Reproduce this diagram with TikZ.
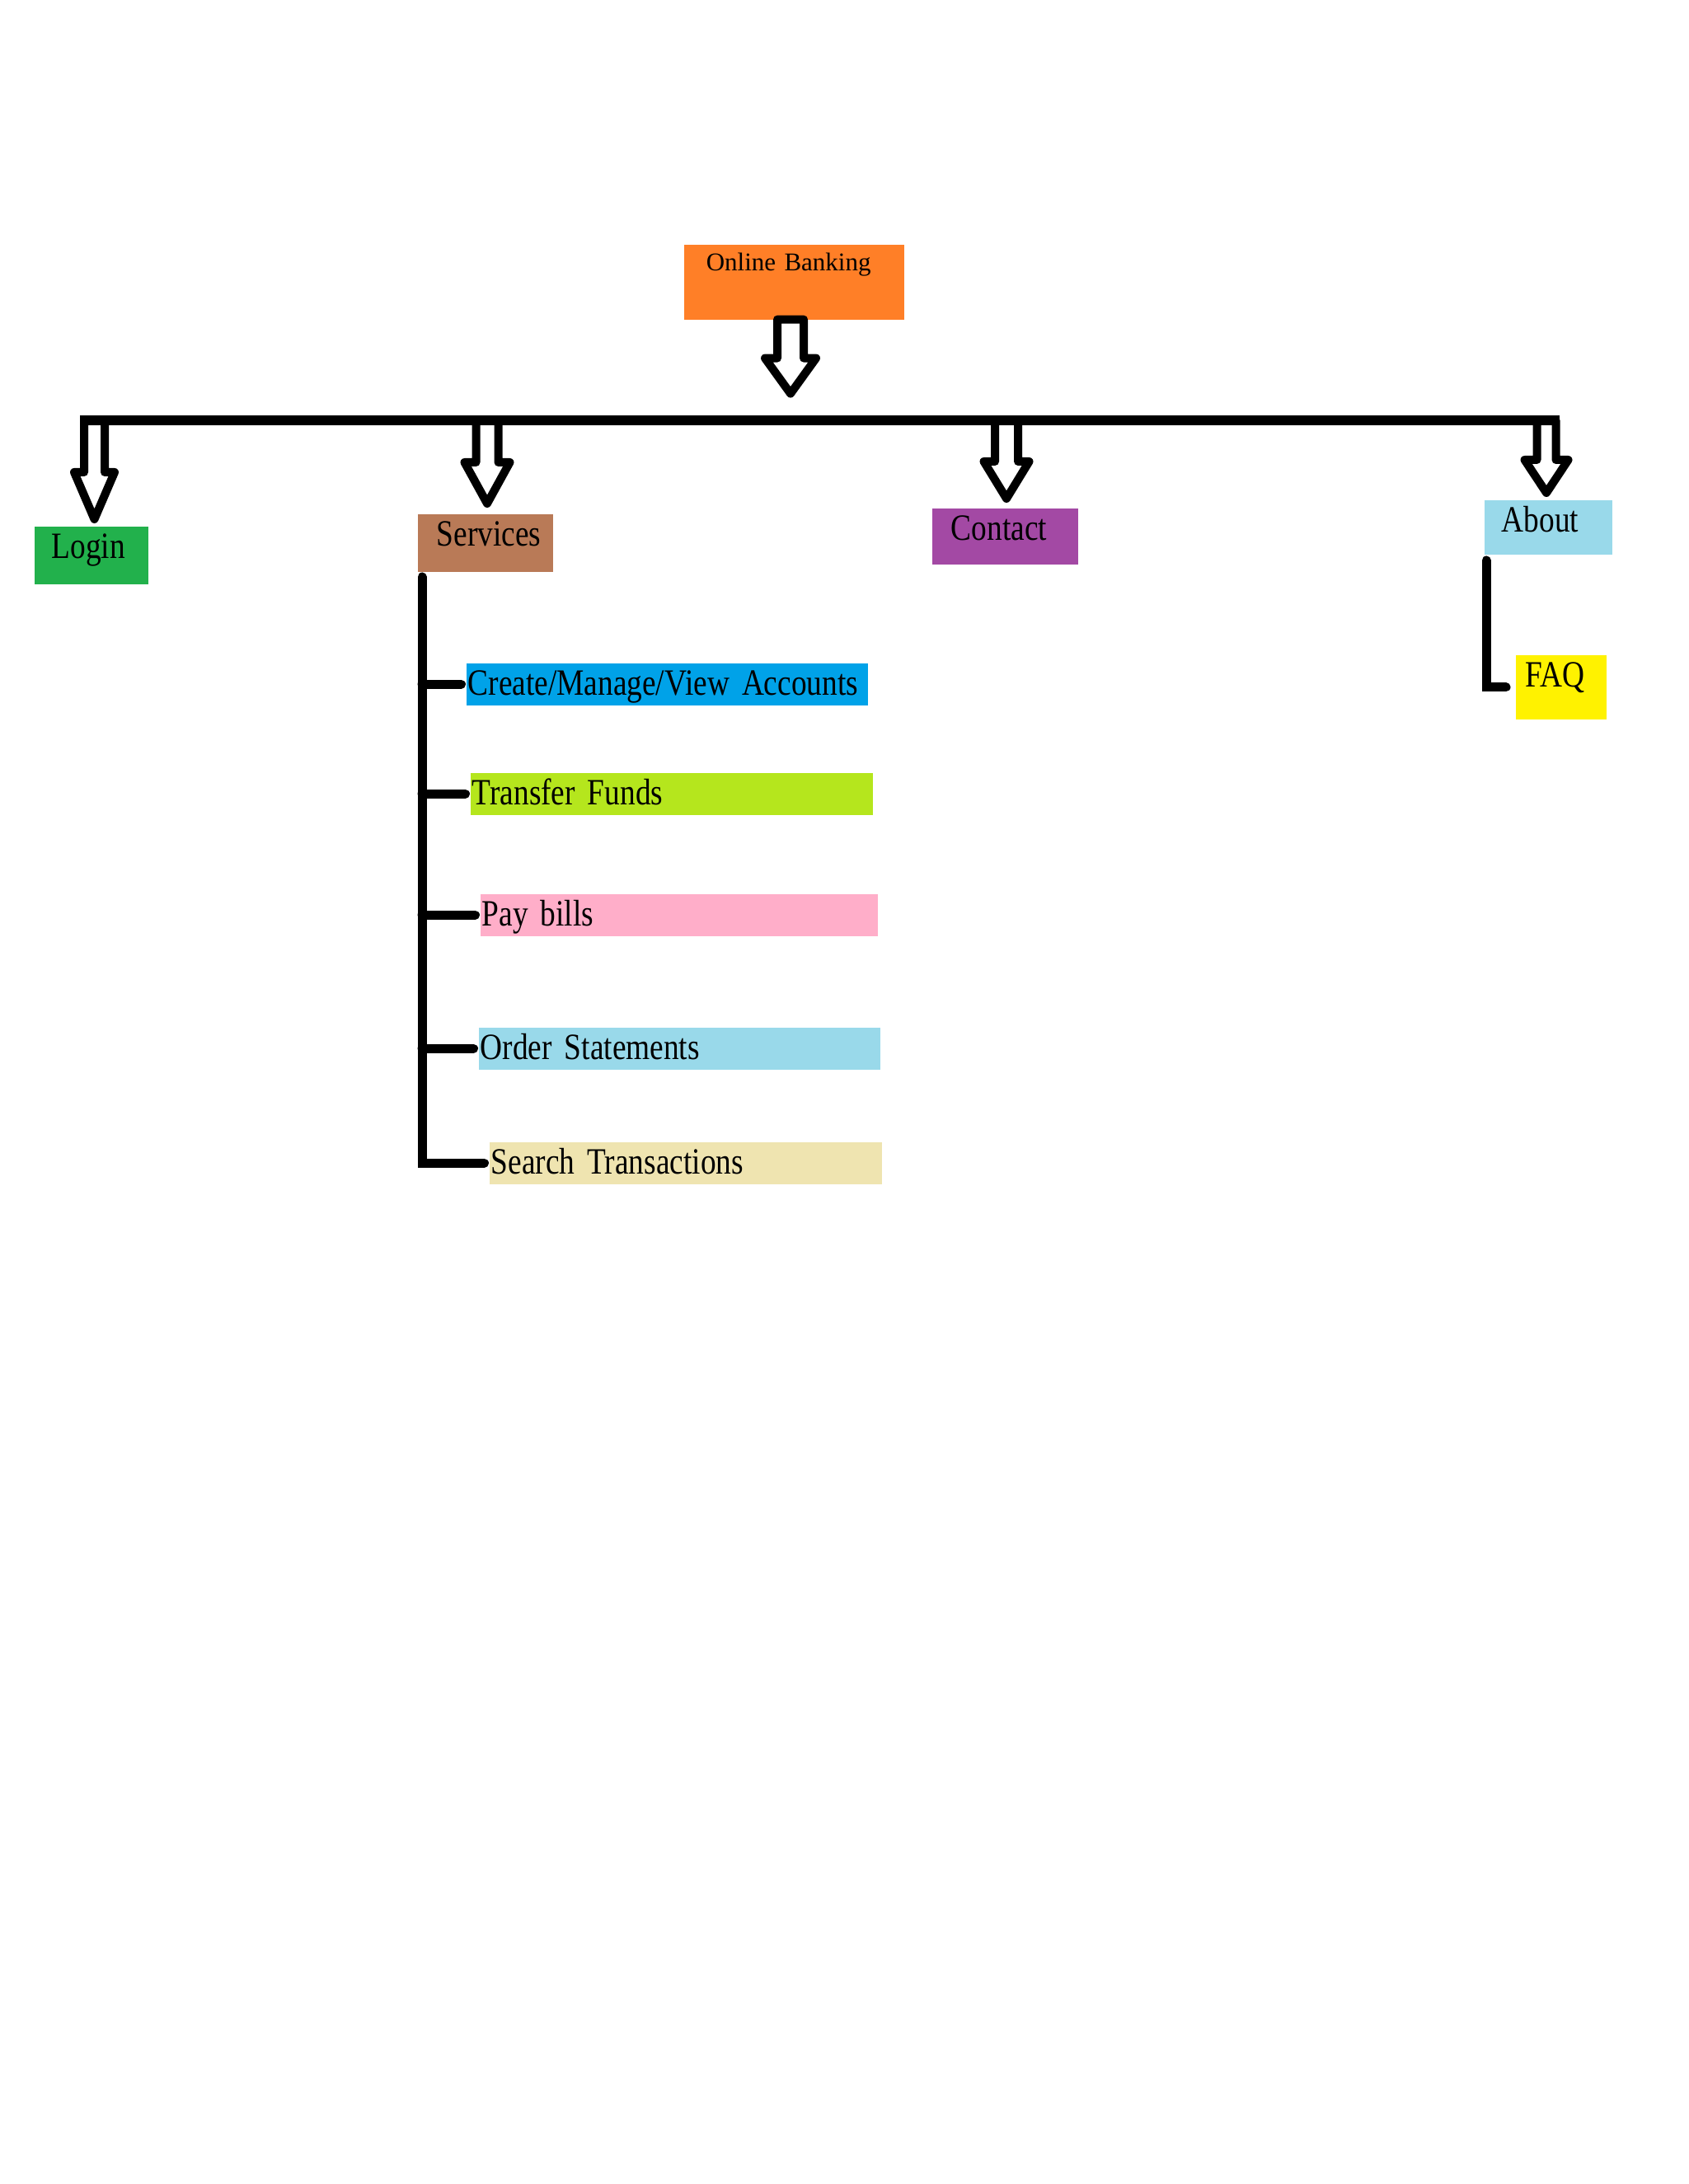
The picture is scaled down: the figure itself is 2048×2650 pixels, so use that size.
\documentclass[tikz,border=0pt]{standalone}
\usepackage{fontspec}
\setmainfont{Liberation Serif}
\newfontfamily\condfont[FakeStretch=0.83,WordSpace=0.8]{Liberation Serif}
\definecolor{corange}{HTML}{FF7F27}
\definecolor{cgreen}{HTML}{22B14C}
\definecolor{cbrown}{HTML}{B97A57}
\definecolor{cpurple}{HTML}{A349A4}
\definecolor{cltblue}{HTML}{99D9EA}
\definecolor{cyellow}{HTML}{FFF200}
\definecolor{cblue}{HTML}{00A2E8}
\definecolor{clime}{HTML}{B5E61D}
\definecolor{cpink}{HTML}{FFAEC9}
\definecolor{ctan}{HTML}{EFE4B0}
\tikzset{
  box/.style n args={4}{anchor=north west, inner ysep=0pt, inner xsep=#1,
    text width=#2, text height=#3, text depth=#4, align=left,
    font=\condfont\fontsize{11.25pt}{13pt}\selectfont},
  arrowline/.style={draw=black, fill=white, line width=2.5pt, line join=round},
  barline/.style={line width=3pt, line cap=butt},
  treeline/.style={line width=2.75pt, line cap=round, line join=miter},
  pics/harrow/.style n args={4}{code={
    \draw[arrowline] (-#1,0) -- (-#1,#4-#3) -- (-#2,#4-#3) -- (0,#4)
      -- (#2,#4-#3) -- (#1,#4-#3) -- (#1,0) -- cycle;}}
}
\begin{document}
\begin{tikzpicture}[x=0.25pt,y=-0.25pt]
\useasboundingbox[fill=white] (0,0) rectangle (2048,2650);

% top node
\node[box={6.75pt}{53.25pt}{8pt}{14.75pt}, fill=corange,
      font=\fontsize{7.75pt}{9pt}\selectfont] (root) at (829,296) {Online Banking};

% first level
\node[box={5.25pt}{24pt}{9.75pt}{7.75pt}, fill=cgreen] (login) at (41,638) {Login};
\node[box={5.75pt}{29.5pt}{9.75pt}{7.75pt}, fill=cbrown] (services) at (506,623) {Services};
\node[box={5.75pt}{32.75pt}{9.75pt}{7.25pt}, fill=cpurple] (contact) at (1130,616) {Contact};
\node[box={5.25pt}{28.25pt}{9.75pt}{6.75pt}, fill=cltblue] (about) at (1800,606) {About};
\node[box={3pt}{21.5pt}{9.75pt}{9.75pt}, fill=cyellow] (faq) at (1838,794) {FAQ};

% services items
\node[box={0.5pt}{120.75pt}{9.75pt}{3pt}, fill=cblue] (create) at (565,804) {Create/Manage/View Accounts};
\node[box={0.5pt}{121pt}{9.75pt}{3pt}, fill=clime] (transfer) at (570,937) {Transfer Funds};
\node[box={0.5pt}{119.5pt}{9.75pt}{3pt}, fill=cpink] (pay) at (582,1084) {Pay bills};
\node[box={0.5pt}{120.75pt}{9.75pt}{3pt}, fill=cltblue] (order) at (580,1246) {Order Statements};
\node[box={0.5pt}{118pt}{9.75pt}{3pt}, fill=ctan] (search) at (593,1385) {Search Transactions};

% main arrow below root
\coordinate (rootarrow) at (root.south -| 959,0);
\pic at ([yshift=0.25pt]rootarrow) {harrow={16}{31}{43}{90}};

% bar and its arrows
\coordinate (barL) at (97,510);
\coordinate (barR) at (1892,510);
\coordinate (aLogin) at (114.5,510);
\coordinate (aServices) at (591,510);
\coordinate (aContact) at (1221,510);
\coordinate (aAbout) at (1876,510);
\pic at (aLogin) {harrow={12.5}{24.5}{57}{120}};
\pic at (aServices) {harrow={13.5}{27.5}{50}{101}};
\pic at (aContact) {harrow={14}{27.5}{45}{95}};
\pic at (aAbout) {harrow={11.5}{26.5}{40}{88}};
\draw[barline] (barL) -- (barR);

% services tree
\coordinate (st) at (512,700);
\draw[treeline, shorten >=1.375pt] (st) |- (search.west);
\foreach \n in {create,transfer,pay,order}
  \draw[treeline, shorten >=1.375pt] (st |- \n.west) -- (\n.west);

% about -> faq
\coordinate (at) at (1803,680);
\draw[treeline] (at) |- ([xshift=-2.75pt]faq.west);
\end{tikzpicture}
\end{document}
